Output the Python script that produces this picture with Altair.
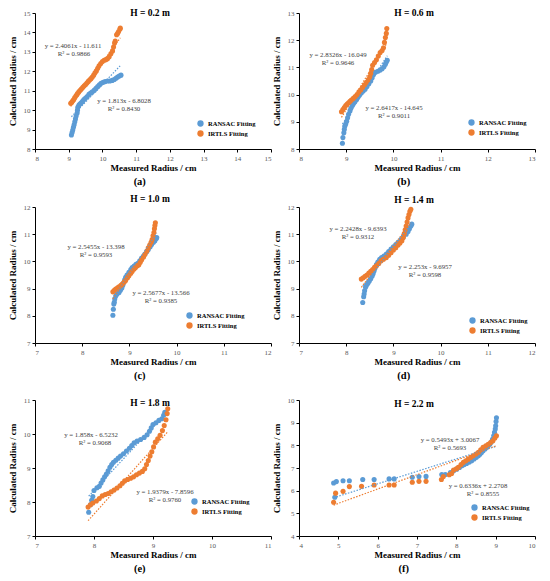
import altair as alt
import pandas as pd

BLUE = "#5B9BD5"
ORANGE = "#ED7D31"
SERIES = ["RANSAC Fitting", "IRTLS Fitting"]
FONT = "Liberation Serif"

heights = ["H = 0.2 m", "H = 0.6 m", "H = 1.0 m", "H = 1.4 m", "H = 1.8 m", "H = 2.2 m"]
panel_tags = ["(a)", "(b)", "(c)", "(d)", "(e)", "(f)"]
axis_min = [8, 8, 7, 7, 7, 4]
axis_max = [15, 13, 12, 12, 11, 10]

ransac_slope = [1.813, 2.6417, 2.5677, 2.2428, 1.858, 0.5493]
ransac_intercept = [-6.8028, -14.645, -13.566, -9.6393, -6.5232, 3.0067]
irtls_slope = [2.4061, 2.8326, 2.5455, 2.253, 1.9379, 0.6336]
irtls_intercept = [-11.611, -16.049, -13.398, -9.6957, -7.8596, 2.2708]

eq_upper = [("y = 2.4061x - 11.611", "R² = 0.9866"),
            ("y = 2.8326x - 16.049", "R² = 0.9646"),
            ("y = 2.5455x - 13.398", "R² = 0.9593"),
            ("y = 2.2428x - 9.6393", "R² = 0.9312"),
            ("y = 1.858x - 6.5232", "R² = 0.9068"),
            ("y = 0.5493x + 3.0067", "R² = 0.5693")]
eq_lower = [("y = 1.813x - 6.8028", "R² = 0.8430"),
            ("y = 2.6417x - 14.645", "R² = 0.9011"),
            ("y = 2.5677x - 13.566", "R² = 0.9385"),
            ("y = 2.253x - 9.6957", "R² = 0.9598"),
            ("y = 1.9379x - 7.8596", "R² = 0.9760"),
            ("y = 0.6336x + 2.2708", "R² = 0.8555")]

a_ransac = [(9.08, 8.72), (9.10, 8.85), (9.12, 8.98), (9.14, 9.12), (9.16, 9.25), (9.18, 9.40),
            (9.20, 9.55), (9.22, 9.70), (9.25, 9.85), (9.26, 10.00), (9.27, 10.15), (9.30, 10.25),
            (9.33, 10.32), (9.37, 10.38), (9.41, 10.45), (9.45, 10.55), (9.50, 10.62), (9.55, 10.70),
            (9.60, 10.82), (9.65, 10.88), (9.70, 10.95), (9.76, 11.03), (9.81, 11.12), (9.86, 11.22),
            (9.91, 11.30), (9.96, 11.38), (10.02, 11.43), (10.08, 11.47), (10.15, 11.50), (10.22, 11.50),
            (10.29, 11.53), (10.35, 11.58), (10.40, 11.64), (10.45, 11.70), (10.50, 11.76), (10.55, 11.80)]
a_irtls = [(9.06, 10.35), (9.09, 10.40), (9.12, 10.48), (9.15, 10.55), (9.18, 10.65), (9.22, 10.75),
           (9.26, 10.85), (9.30, 10.95), (9.34, 11.02), (9.38, 11.10), (9.42, 11.18), (9.46, 11.25),
           (9.50, 11.32), (9.54, 11.40), (9.58, 11.48), (9.62, 11.55), (9.66, 11.62), (9.70, 11.70),
           (9.74, 11.80), (9.78, 11.92), (9.82, 12.02), (9.86, 12.15), (9.90, 12.28), (9.95, 12.40),
           (10.00, 12.50), (10.05, 12.57), (10.10, 12.60), (10.15, 12.65), (10.20, 12.75), (10.25, 12.90),
           (10.30, 13.05), (10.33, 13.25), (10.36, 13.45), (10.38, 13.55), (10.42, 13.88), (10.45, 13.95),
           (10.48, 14.05), (10.52, 14.18), (10.53, 14.22)]

b_ransac = [(8.92, 8.21), (8.93, 8.42), (8.95, 8.60), (8.96, 8.72), (8.97, 8.84), (8.99, 8.92),
            (9.01, 9.02), (9.03, 9.15), (9.05, 9.28), (9.08, 9.40), (9.10, 9.50), (9.13, 9.60),
            (9.16, 9.68), (9.19, 9.76), (9.22, 9.82), (9.25, 9.90), (9.28, 9.98), (9.32, 10.06),
            (9.36, 10.13), (9.40, 10.20), (9.44, 10.30), (9.48, 10.40), (9.52, 10.50), (9.55, 10.62),
            (9.58, 10.74), (9.62, 10.82), (9.67, 10.86), (9.72, 10.90), (9.76, 10.95), (9.80, 11.02),
            (9.83, 11.12), (9.85, 11.20), (9.87, 11.26)]
b_irtls = [(8.90, 9.37), (8.93, 9.45), (8.96, 9.52), (8.99, 9.60), (9.02, 9.65), (9.05, 9.70),
           (9.08, 9.75), (9.11, 9.80), (9.15, 9.86), (9.19, 9.93), (9.23, 10.00), (9.27, 10.10),
           (9.31, 10.18), (9.35, 10.27), (9.39, 10.36), (9.43, 10.45), (9.47, 10.55), (9.50, 10.65),
           (9.52, 10.78), (9.54, 10.92), (9.56, 11.08), (9.60, 11.18), (9.64, 11.28), (9.68, 11.42),
           (9.72, 11.55), (9.76, 11.62), (9.79, 11.72), (9.81, 11.92), (9.83, 12.10), (9.85, 12.25),
           (9.86, 12.43)]

c_ransac = [(8.65, 8.02), (8.66, 8.24), (8.67, 8.43), (8.68, 8.50), (8.69, 8.62), (8.71, 8.73),
            (8.74, 8.80), (8.78, 8.86), (8.81, 8.94), (8.84, 9.02), (8.86, 9.12), (8.88, 9.22),
            (8.90, 9.32), (8.92, 9.42), (8.95, 9.50), (8.99, 9.60), (9.03, 9.70), (9.06, 9.77),
            (9.10, 9.83), (9.14, 9.89), (9.18, 9.93), (9.22, 10.02), (9.26, 10.12), (9.30, 10.20),
            (9.33, 10.27), (9.37, 10.36), (9.40, 10.44), (9.44, 10.54), (9.47, 10.62), (9.51, 10.70),
            (9.54, 10.76), (9.57, 10.84), (9.58, 10.88)]
c_irtls = [(8.65, 8.88), (8.68, 8.94), (8.71, 8.98), (8.75, 9.03), (8.78, 9.07), (8.82, 9.12),
           (8.85, 9.17), (8.89, 9.24), (8.92, 9.30), (8.96, 9.40), (8.99, 9.47), (9.03, 9.56),
           (9.06, 9.64), (9.10, 9.72), (9.13, 9.78), (9.17, 9.84), (9.20, 9.88), (9.23, 9.97),
           (9.26, 10.06), (9.30, 10.16), (9.33, 10.26), (9.37, 10.38), (9.40, 10.50), (9.43, 10.60),
           (9.46, 10.70), (9.48, 10.80), (9.50, 10.94), (9.52, 11.06), (9.53, 11.20), (9.54, 11.32),
           (9.55, 11.42)]

d_ransac = [(8.35, 8.49), (8.37, 8.70), (8.38, 8.80), (8.39, 8.92), (8.41, 9.05), (8.43, 9.12),
            (8.46, 9.20), (8.49, 9.28), (8.52, 9.36), (8.55, 9.46), (8.57, 9.55), (8.59, 9.65),
            (8.61, 9.75), (8.64, 9.88), (8.67, 9.98), (8.71, 10.08), (8.75, 10.14), (8.80, 10.20),
            (8.85, 10.27), (8.90, 10.36), (8.95, 10.45), (9.00, 10.54), (9.05, 10.62), (9.10, 10.70),
            (9.16, 10.80), (9.21, 10.90), (9.27, 11.00), (9.31, 11.10), (9.34, 11.20), (9.37, 11.30),
            (9.39, 11.37)]
d_irtls = [(8.32, 9.35), (8.36, 9.40), (8.40, 9.45), (8.44, 9.50), (8.48, 9.57), (8.52, 9.64),
           (8.56, 9.70), (8.60, 9.78), (8.64, 9.84), (8.69, 9.92), (8.74, 10.02), (8.79, 10.08),
           (8.85, 10.14), (8.90, 10.23), (8.95, 10.32), (9.00, 10.42), (9.05, 10.50), (9.10, 10.60),
           (9.14, 10.68), (9.18, 10.76), (9.21, 10.88), (9.23, 11.02), (9.25, 11.16), (9.27, 11.30),
           (9.29, 11.45), (9.31, 11.60), (9.33, 11.72), (9.35, 11.84), (9.37, 11.92)]

e_ransac = [(7.91, 7.70), (7.94, 7.92), (7.96, 8.05), (7.98, 8.16), (8.00, 8.34), (8.05, 8.42),
            (8.09, 8.46), (8.12, 8.56), (8.15, 8.65), (8.18, 8.74), (8.21, 8.82), (8.24, 8.92),
            (8.27, 9.02), (8.30, 9.10), (8.33, 9.17), (8.37, 9.23), (8.41, 9.29), (8.45, 9.35),
            (8.50, 9.42), (8.55, 9.50), (8.60, 9.58), (8.64, 9.66), (8.68, 9.74), (8.73, 9.79),
            (8.79, 9.84), (8.85, 9.90), (8.90, 9.98), (8.94, 10.08), (8.97, 10.18), (9.00, 10.28),
            (9.05, 10.33), (9.10, 10.40), (9.15, 10.45), (9.18, 10.55), (9.20, 10.64)]
e_irtls = [(7.90, 7.85), (7.94, 7.92), (7.98, 7.97), (8.04, 8.03), (8.09, 8.10), (8.14, 8.18),
           (8.19, 8.22), (8.24, 8.25), (8.29, 8.30), (8.34, 8.35), (8.39, 8.41), (8.44, 8.48),
           (8.48, 8.55), (8.52, 8.62), (8.57, 8.66), (8.62, 8.70), (8.67, 8.74), (8.72, 8.80),
           (8.77, 8.85), (8.82, 8.90), (8.86, 8.98), (8.89, 9.10), (8.92, 9.22), (8.95, 9.35),
           (8.98, 9.48), (9.01, 9.62), (9.04, 9.76), (9.08, 9.86), (9.12, 9.96), (9.16, 10.10),
           (9.19, 10.25), (9.22, 10.42), (9.24, 10.60), (9.25, 10.74)]

f_ransac = [(4.88, 6.34), (4.91, 5.71), (4.95, 6.40), (5.12, 6.44), (5.28, 6.44), (5.62, 6.49),
            (5.91, 6.49), (6.29, 6.52), (6.42, 6.52), (6.88, 6.59), (7.05, 6.62), (7.23, 6.63),
            (7.63, 6.71), (7.72, 6.71), (7.85, 6.80), (7.93, 6.88), (8.01, 6.95), (8.08, 7.02),
            (8.14, 7.10), (8.20, 7.15), (8.26, 7.20), (8.33, 7.26), (8.39, 7.32), (8.45, 7.40),
            (8.51, 7.47), (8.56, 7.54), (8.60, 7.61), (8.64, 7.68), (8.68, 7.76), (8.73, 7.84),
            (8.77, 7.91), (8.81, 7.98), (8.85, 8.05), (8.89, 8.15), (8.92, 8.27), (8.95, 8.42),
            (8.97, 8.57), (8.99, 8.72), (9.00, 8.86), (9.01, 9.05), (9.02, 9.22)]
f_irtls = [(4.88, 5.49), (4.93, 5.89), (5.12, 5.97), (5.28, 6.18), (5.59, 6.19), (5.91, 6.25),
           (6.29, 6.25), (6.42, 6.25), (6.88, 6.37), (7.05, 6.41), (7.23, 6.41), (7.62, 6.49),
           (7.67, 6.62), (7.82, 6.70), (7.88, 6.76), (7.93, 6.91), (8.00, 6.97), (8.05, 7.03),
           (8.12, 7.15), (8.18, 7.25), (8.24, 7.32), (8.30, 7.39), (8.37, 7.47), (8.43, 7.54),
           (8.50, 7.62), (8.56, 7.69), (8.62, 7.80), (8.68, 7.91), (8.75, 7.98), (8.81, 8.05),
           (8.87, 8.12), (8.93, 8.20), (8.98, 8.32), (9.02, 8.42)]

ransac_sets = [a_ransac, b_ransac, c_ransac, d_ransac, e_ransac, f_ransac]
irtls_sets = [a_irtls, b_irtls, c_irtls, d_irtls, e_irtls, f_irtls]

# ---------------- layout (pixels, relative to each plot area) ----------------
W, H = 236, 136
title_dy = [0, 0, -8, -7, 3, 4]
eq_upper_pos = [(38, 33), (39, 42), (61, 40), (59, 22), (56, 35), (151, 40)]
eq_lower_pos = [(89, 88), (95, 95), (126, 86), (126, 60), (130, 92), (179, 86)]
r2_dx_upper = [1, 0, 0, 0, 4, 0]
r2_dx_lower = [0, 0, 0, 0, 0, 5]
legend_pos = [(162, 107), (169, 106), (151, 105), (170, 110), (156, 98), (172, 104)]

pts_rows, line_rows = [], []
for i in range(6):
    for s, pts, m, b in ((SERIES[0], ransac_sets[i], ransac_slope[i], ransac_intercept[i]),
                         (SERIES[1], irtls_sets[i], irtls_slope[i], irtls_intercept[i])):
        for x, y in pts:
            pts_rows.append({"panel": i, "series": s, "x": x, "y": y})
        xs = [p[0] for p in pts]
        for x in (min(xs), max(xs)):
            line_rows.append({"panel": i, "series": s, "x": x, "y": m * x + b})
pts_df = pd.DataFrame(pts_rows)
line_df = pd.DataFrame(line_rows)
one = pd.DataFrame({"d": [0]})

col_scale = alt.Scale(domain=SERIES, range=[BLUE, ORANGE])


def panel(i):
    lo, hi = axis_min[i], axis_max[i]
    ticks = list(range(lo, hi + 1))
    xenc = alt.X("x:Q", scale=alt.Scale(domain=[lo, hi], nice=False, zero=False),
                 axis=alt.Axis(values=ticks, format="d", labelOverlap=False,
                               title="Measured Radius / cm"))
    yenc = alt.Y("y:Q", scale=alt.Scale(domain=[lo, hi], nice=False, zero=False),
                 axis=alt.Axis(values=ticks, format="d", labelOverlap=False,
                               title="Calculated Radius / cm"))
    lx, ly = legend_pos[i]
    points = alt.Chart(pts_df[pts_df.panel == i]).mark_circle(size=26, opacity=1).encode(
        x=xenc, y=yenc,
        color=alt.Color("series:N", scale=col_scale, sort=SERIES,
                        legend=alt.Legend(title=None, orient="none", legendX=lx, legendY=ly)),
    )
    lines = alt.Chart(line_df[line_df.panel == i]).mark_line(
        strokeDash=[1.5, 1.5], strokeWidth=1.2).encode(
        x=xenc, y=yenc,
        stroke=alt.Stroke("series:N", scale=col_scale, legend=None),
        detail="series:N",
    )
    layers = [points, lines]
    for (l1, l2), (px, py), dx in ((eq_upper[i], eq_upper_pos[i], r2_dx_upper[i]),
                                   (eq_lower[i], eq_lower_pos[i], r2_dx_lower[i])):
        for k, t in enumerate((l1, l2)):
            layers.append(alt.Chart(one).mark_text(
                font=FONT, fontSize=6.8, color="#404040").encode(
                x=alt.value(px + (dx if k else 0)), y=alt.value(py + 7.5 * k),
                text=alt.value(t)))
    layers.append(alt.Chart(one).mark_text(
        font=FONT, fontSize=9.5, fontWeight="bold", color="#000000").encode(
        x=alt.value(W / 2 - 3), y=alt.value(title_dy[i]), text=alt.value(heights[i])))
    return alt.layer(*layers).properties(
        width=W, height=H,
        title=alt.TitleParams(text=panel_tags[i], orient="bottom", font=FONT, fontSize=10.5,
                              fontWeight="bold", color="#000000", offset=5,
                              frame="bounds", anchor="middle"),
    )


def row(i, j):
    return alt.hconcat(panel(i), panel(j), spacing=0).resolve_scale(
        color="independent", stroke="independent").resolve_legend(color="independent")


top = alt.vconcat(row(0, 1), row(2, 3), spacing=6).resolve_scale(
    color="independent", stroke="independent").resolve_legend(color="independent")

chart = alt.vconcat(top, row(4, 5), spacing=14).resolve_scale(
    color="independent", stroke="independent").resolve_legend(color="independent").properties(
    padding={"left": 0, "top": 0, "right": 0, "bottom": 0}
).configure_view(stroke=None).configure_axis(
    grid=False, domainColor="#000000", domainWidth=1, tickColor="#000000", tickSize=3,
    labelColor="#595959", labelFont=FONT, labelFontSize=7, labelPadding=2,
    titleFont=FONT, titleFontSize=9, titleFontWeight="bold", titleColor="#000000",
    titlePadding=2,
).configure_axisY(titlePadding=6).configure_legend(
    labelFont=FONT, labelFontSize=6.5, labelFontWeight="bold", labelColor="#000000",
    symbolType="circle", symbolSize=40, rowPadding=3, labelOffset=4, padding=0,
    symbolStrokeWidth=0,
)

chart.save("out.html", embed_options={"renderer": "svg", "actions": False})
